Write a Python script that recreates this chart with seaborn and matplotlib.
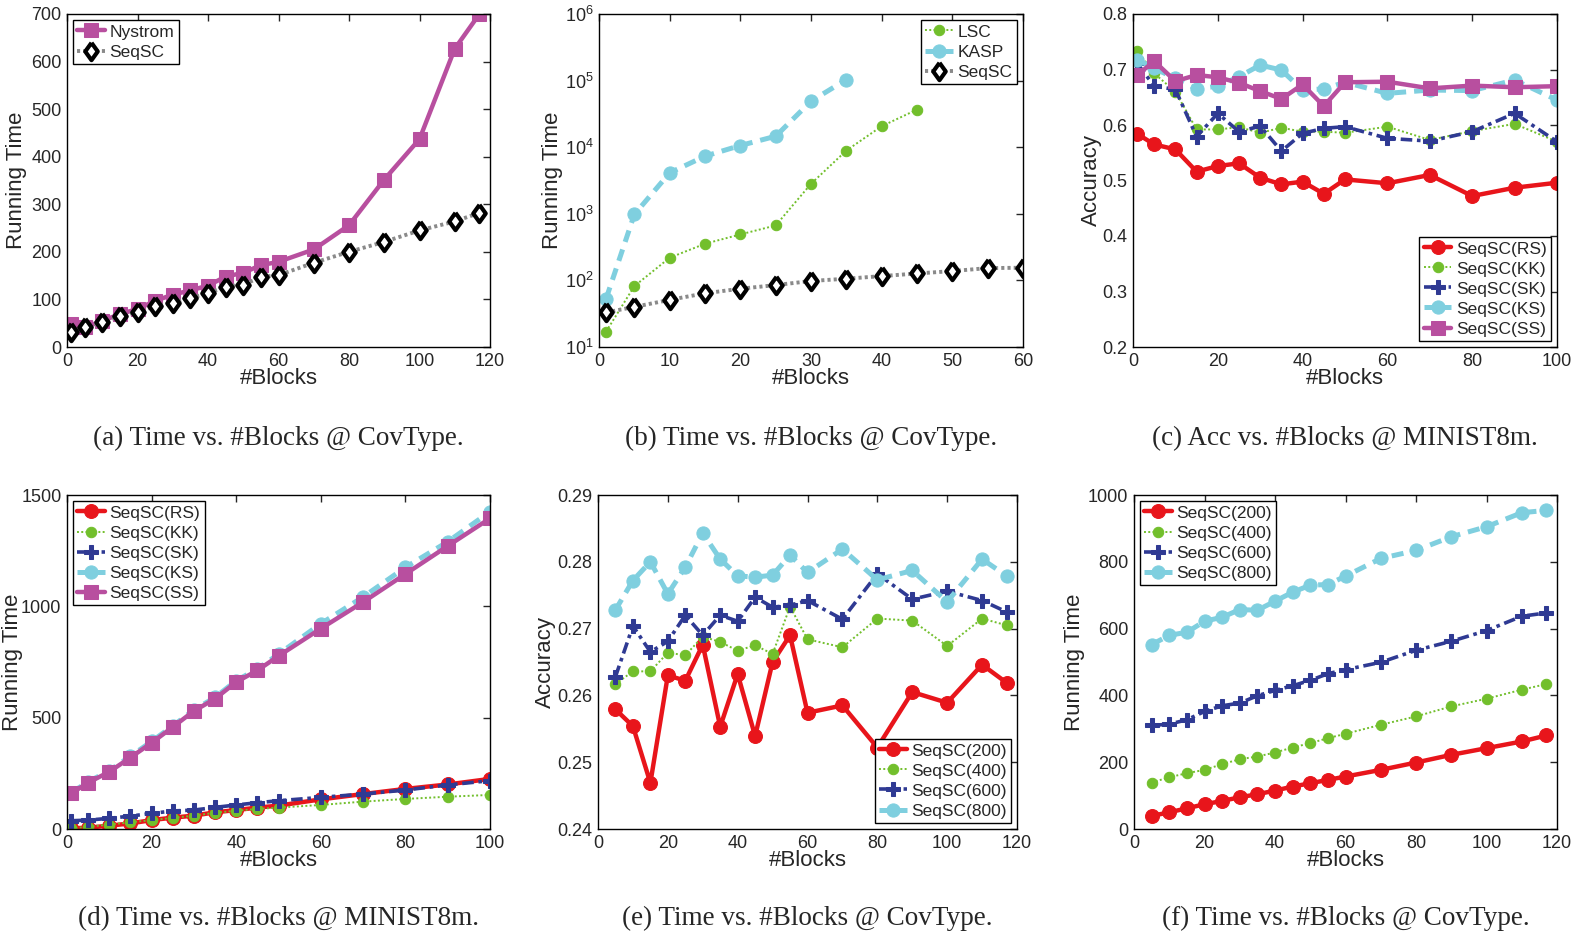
import matplotlib
matplotlib.use("Agg")
import matplotlib.pyplot as plt
import seaborn as sns
import pandas as pd

sns.set_theme(style="white")
plt.rcParams["font.family"] = ["Liberation Sans", "DejaVu Sans"]

# ---- data ----
# (a) Time vs #Blocks @ CovType
a_blocks = [1, 5, 10, 15, 20, 25, 30, 35, 40, 45, 50, 55, 60, 70, 80, 90, 100, 110, 117]
a_nystrom = [48, 41, 55, 69, 80, 97, 110, 119, 129, 148, 156, 172, 179, 205, 256, 352, 437, 627, 700]
a_seqsc = [32, 41, 52, 65, 74, 86, 93, 103, 113, 127, 131, 147, 151, 177, 200, 221, 245, 264, 282]

# (b) Time vs #Blocks @ CovType (log scale)
b_blocks_seq = [1, 5, 10, 15, 20, 25, 30, 35, 40, 45, 50, 55, 60]
b_seqsc = [33, 40, 51, 64, 75, 85, 98, 106, 116, 127, 138, 153, 155]
b_blocks_lsc = [1, 5, 10, 15, 20, 25, 30, 35, 40, 45]
b_lsc = [17, 82, 219, 355, 490, 668, 2818, 8900, 20650, 36700]
b_blocks_kasp = [1, 5, 10, 15, 20, 25, 30, 35]
b_kasp = [53, 977, 4120, 7330, 10600, 14600, 49000, 103500]

# (c) Acc vs #Blocks @ MINIST8m
c_blocks = [1, 5, 10, 15, 20, 25, 30, 35, 40, 45, 50, 60, 70, 80, 90, 100]
c_rs = [0.584, 0.565, 0.556, 0.516, 0.526, 0.531, 0.505, 0.493, 0.498, 0.476, 0.502, 0.495, 0.510, 0.472, 0.487, 0.496]
c_kk = [0.734, 0.693, 0.660, 0.592, 0.592, 0.596, 0.586, 0.595, 0.588, 0.588, 0.586, 0.597, 0.573, 0.589, 0.602, 0.570]
c_sk = [0.711, 0.670, 0.664, 0.579, 0.621, 0.588, 0.598, 0.553, 0.585, 0.594, 0.597, 0.576, 0.571, 0.588, 0.621, 0.570]
c_ks = [0.718, 0.702, 0.684, 0.665, 0.670, 0.687, 0.708, 0.699, 0.663, 0.665, 0.677, 0.657, 0.663, 0.662, 0.681, 0.645]
c_ss = [0.690, 0.715, 0.679, 0.690, 0.686, 0.676, 0.661, 0.647, 0.673, 0.634, 0.677, 0.678, 0.666, 0.671, 0.668, 0.670]

# (d) Time vs #Blocks @ MINIST8m
d_blocks = [1, 5, 10, 15, 20, 25, 30, 35, 40, 45, 50, 60, 70, 80, 90, 100]
d_rs = [3, 6, 15, 25, 40, 51, 60, 75, 85, 96, 105, 133, 157, 180, 200, 225]
d_kk = [3, 10, 20, 30, 40, 50, 60, 73, 82, 90, 96, 108, 123, 135, 145, 153]
d_sk = [37, 40, 48, 58, 70, 81, 85, 97, 108, 118, 127, 142, 157, 175, 198, 217]
d_ks = [163, 212, 262, 327, 393, 463, 535, 591, 666, 719, 785, 922, 1042, 1175, 1290, 1425]
d_ss = [160, 208, 257, 321, 387, 458, 530, 585, 660, 712, 777, 900, 1019, 1145, 1271, 1395]

# (e) and (f) share the same block counts
ef_blocks = [5, 10, 15, 20, 25, 30, 35, 40, 45, 50, 55, 60, 70, 80, 90, 100, 110, 117]
e_200 = [0.2579, 0.2554, 0.2469, 0.2630, 0.2622, 0.2676, 0.2553, 0.2632, 0.2539, 0.2650, 0.2690, 0.2574,
         0.2585, 0.2522, 0.2605, 0.2589, 0.2646, 0.2619]
e_400 = [0.2617, 0.2636, 0.2636, 0.2664, 0.2660, 0.2688, 0.2680, 0.2667, 0.2675, 0.2662, 0.2733, 0.2684,
         0.2672, 0.2715, 0.2712, 0.2674, 0.2715, 0.2705]
e_600 = [0.2628, 0.2704, 0.2665, 0.2681, 0.2720, 0.2690, 0.2720, 0.2711, 0.2747, 0.2732, 0.2735, 0.2742,
         0.2714, 0.2782, 0.2744, 0.2756, 0.2742, 0.2725]
e_800 = [0.2728, 0.2772, 0.2800, 0.2752, 0.2792, 0.2843, 0.2804, 0.2779, 0.2777, 0.2780, 0.2810, 0.2784,
         0.2819, 0.2773, 0.2787, 0.2740, 0.2804, 0.2779]

f_200 = [39, 50, 62, 74, 84, 95, 104, 115, 127, 137, 147, 157, 177, 199, 222, 242, 262, 280]
f_400 = [139, 155, 167, 177, 194, 209, 217, 229, 244, 257, 272, 285, 312, 337, 367, 390, 417, 434]
f_600 = [310, 314, 327, 352, 369, 377, 399, 415, 429, 445, 465, 477, 499, 535, 562, 594, 637, 647]
f_800 = [552, 580, 589, 622, 634, 657, 655, 682, 709, 730, 732, 757, 810, 834, 875, 905, 947, 954]

captions = ["(a) Time vs. #Blocks @ CovType.", "(b) Time vs. #Blocks @ CovType.",
            "(c) Acc vs. #Blocks @ MINIST8m.", "(d) Time vs. #Blocks @ MINIST8m.",
            "(e) Time vs. #Blocks @ CovType.", "(f) Time vs. #Blocks @ CovType."]

# ---- styles (MATLAB-like) ----
RED, GREEN, BLUE, CYAN, MAG = "#e8151b", "#72bf2c", "#2f3a93", "#7fcfdf", "#b84f9f"
DIAMOND = [(0, 1), (0.72, 0), (0, -1), (-0.72, 0), (0, 1)]
styles = {
    "rs": dict(color=RED, linestyle="-", linewidth=3.2, marker="o", markersize=10,
               markerfacecolor=RED, markeredgecolor=RED),
    "kk": dict(color=GREEN, linestyle=(0, (1, 1.2)), linewidth=1.4, marker="o", markersize=7.5,
               markerfacecolor=GREEN, markeredgecolor=GREEN),
    "sk": dict(color=BLUE, linestyle=(0, (3.2, 1.3, 1, 1.3)), linewidth=2.6, marker="P", markersize=10,
               markerfacecolor=BLUE, markeredgecolor=BLUE),
    "ks": dict(color=CYAN, linestyle=(0, (2.4, 1.6)), linewidth=3.6, marker="o", markersize=9.5,
               markerfacecolor=CYAN, markeredgecolor=CYAN),
    "ss": dict(color=MAG, linestyle="-", linewidth=3.2, marker="s", markersize=9.5,
               markerfacecolor=MAG, markeredgecolor=MAG),
    "seq": dict(color="#8a8a8a", linestyle=(0, (0.8, 0.8)), linewidth=2.8, marker=DIAMOND, markersize=12.5,
                markerfacecolor="white", markeredgecolor="black", markeredgewidth=3),
}


def draw(ax, x, y, label, key):
    df = pd.DataFrame({"x": x, "y": y})
    sns.lineplot(data=df, x="x", y="y", ax=ax, label=label, errorbar=None, sort=False, **styles[key])


def finish(ax, xlim, ylim, xticks, yticks, ylabel, legend_loc, ylab_x):
    ax.set_xlim(*xlim)
    ax.set_ylim(*ylim)
    ax.set_xticks(xticks)
    ax.set_yticks(yticks)
    ax.set_xlabel("#Blocks", fontsize=16, labelpad=-1)
    ax.set_ylabel(ylabel, fontsize=16)
    ax.yaxis.set_label_coords(ylab_x, 0.5)
    ax.tick_params(direction="in", top=True, right=True, labelsize=13, length=5, width=1, pad=4)
    for s in ax.spines.values():
        s.set_color("black")
        s.set_linewidth(1.0)
    leg = ax.legend(loc=legend_loc, fontsize=12.5, frameon=True, fancybox=False, borderpad=0.25,
                    handlelength=1.6, handletextpad=0.25, labelspacing=0.28, borderaxespad=0.35)
    leg.get_frame().set_edgecolor("black")
    leg.get_frame().set_linewidth(1.0)
    leg.get_frame().set_alpha(1)


fig = plt.figure(figsize=(15.73, 9.36), dpi=100)
W, H = 1573.0, 936.0


def axes_px(x0, x1, y0, y1):
    return fig.add_axes([x0 / W, 1 - y1 / H, (x1 - x0) / W, (y1 - y0) / H])


ax_a = axes_px(67, 490, 14, 347)
ax_b = axes_px(599, 1023, 14, 347)
ax_c = axes_px(1133, 1557, 14, 347)
ax_d = axes_px(67, 490, 495, 829)
ax_e = axes_px(598, 1017, 495, 829)
ax_f = axes_px(1134, 1557, 495, 829)

# (a)
draw(ax_a, a_blocks, a_nystrom, "Nystrom", "ss")
draw(ax_a, a_blocks, a_seqsc, "SeqSC", "seq")
finish(ax_a, (0, 120), (0, 700), range(0, 121, 20), range(0, 701, 100), "Running Time", "upper left", -0.095)

# (b)
draw(ax_b, b_blocks_lsc, b_lsc, "LSC", "kk")
draw(ax_b, b_blocks_kasp, b_kasp, "KASP", "ks")
draw(ax_b, b_blocks_seq, b_seqsc, "SeqSC", "seq")
ax_b.set_yscale("log")
finish(ax_b, (0, 60), (10, 1e6), range(0, 61, 10), [10, 1e2, 1e3, 1e4, 1e5, 1e6], "Running Time",
       "upper right", -0.085)
ax_b.minorticks_off()
ax_b.tick_params(axis="y", which="minor", left=False, right=False)

# (c)
for ys, lab, key in [(c_rs, "SeqSC(RS)", "rs"), (c_kk, "SeqSC(KK)", "kk"), (c_sk, "SeqSC(SK)", "sk"),
                     (c_ks, "SeqSC(KS)", "ks"), (c_ss, "SeqSC(SS)", "ss")]:
    draw(ax_c, c_blocks, ys, lab, key)
finish(ax_c, (0, 100), (0.2, 0.8), range(0, 101, 20), [0.2, 0.3, 0.4, 0.5, 0.6, 0.7, 0.8], "Accuracy",
       "lower right", -0.073)
ax_c.set_yticklabels(["0.2", "0.3", "0.4", "0.5", "0.6", "0.7", "0.8"])

# (d)
for ys, lab, key in [(d_rs, "SeqSC(RS)", "rs"), (d_kk, "SeqSC(KK)", "kk"), (d_sk, "SeqSC(SK)", "sk"),
                     (d_ks, "SeqSC(KS)", "ks"), (d_ss, "SeqSC(SS)", "ss")]:
    draw(ax_d, d_blocks, ys, lab, key)
finish(ax_d, (0, 100), (0, 1500), range(0, 101, 20), [0, 500, 1000, 1500], "Running Time", "upper left", -0.105)

# (e)
for ys, lab, key in [(e_200, "SeqSC(200)", "rs"), (e_400, "SeqSC(400)", "kk"), (e_600, "SeqSC(600)", "sk"),
                     (e_800, "SeqSC(800)", "ks")]:
    draw(ax_e, ef_blocks, ys, lab, key)
finish(ax_e, (0, 120), (0.24, 0.29), range(0, 121, 20), [0.24, 0.25, 0.26, 0.27, 0.28, 0.29], "Accuracy",
       "lower right", -0.100)
ax_e.set_yticklabels(["0.24", "0.25", "0.26", "0.27", "0.28", "0.29"])

# (f)
for ys, lab, key in [(f_200, "SeqSC(200)", "rs"), (f_400, "SeqSC(400)", "kk"), (f_600, "SeqSC(600)", "sk"),
                     (f_800, "SeqSC(800)", "ks")]:
    draw(ax_f, ef_blocks, ys, lab, key)
finish(ax_f, (0, 120), (0, 1000), range(0, 121, 20), range(0, 1001, 200), "Running Time", "upper left", -0.116)

# captions under each panel (baseline positions in px)
cap_x = [(67 + 490) / 2, (599 + 1023) / 2, (1133 + 1557) / 2, (67 + 490) / 2, (598 + 1017) / 2, (1134 + 1557) / 2]
cap_y = [445, 445, 445, 925, 925, 925]
for cx, cy, txt in zip(cap_x, cap_y, captions):
    fig.text(cx / W, 1 - cy / H, txt, ha="center", va="baseline", fontsize=19.5,
             family=["Liberation Serif", "DejaVu Serif"])

fig.savefig("out.png", dpi=100)
